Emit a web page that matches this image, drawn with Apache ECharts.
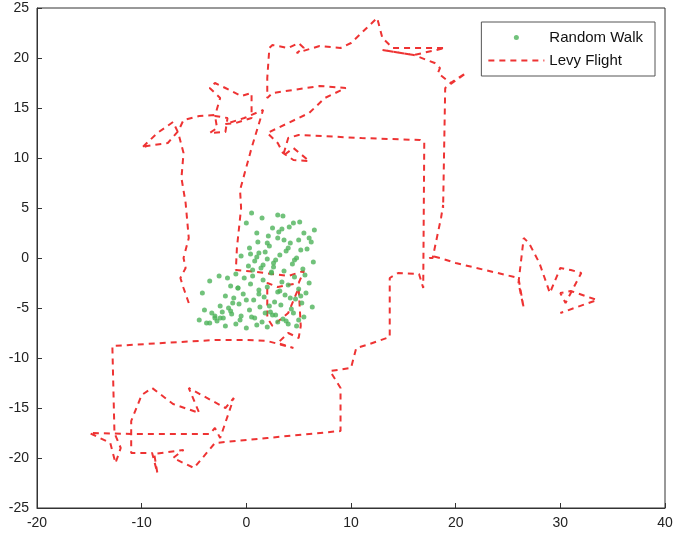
<!DOCTYPE html><html><head><meta charset="utf-8">
<script src="https://cdn.jsdelivr.net/npm/echarts@6/dist/echarts.min.js"></script>
<style>body{margin:0}#c{width:685px;height:539px}</style></head><body><div id="c"></div><script>
const xTicks=[-20,-10,0,10,20,30,40];
const yTicks=[-25,-20,-15,-10,-5,0,5,10,15,20,25];
const levyX=[-5.5,-6,-6.3,-5.8,-6,-5.5,-5.8,-6.2,-6,-6.5,-7,-8.5,-10,-9.5,-7.5,-6.5,-6,-4.5,-3,-2.8,-3.5,-2,-1.8,-3,-2.5,-3.5,-3,-2,-0.5,0.5,0.5,-1,-2,-0.2,1.6,0.5,-0.6,-0.5,-0.9,-1,1,4,5.5,5,3,2,2,2.5,4,5,5.2,5,4,3,4.5,2,0,-3,-8,-12.8,-12.6,-12,-12.5,-13,-15,-11,-7,-3.5,-3,-2.5,-1.2,-2,-5.5,-4.5,-7,-9,-10,-11,-11,-9,-8.5,-8.8,-6,-7,-5,-3,2,9,9,8,10,10.5,11.5,13.7,13.7,14.5,16.5,16.9,17,16.6,11,5,4,3.5,4.5,6,4.5,3.5,3,2,4,6,7.5,9.5,7,2.5,2,2,2.2,2.5,4,5,5.5,4.8,7,9,10,11.5,12.5,13,13.5,14,19,16,13,16,18,18.5,18.3,19.5,21,19,18.8,18.8,18.6,17.8,17.5,17.7,18.5,20,26,26.5,26,26.5,27,28,29,30,31,32,30.5,30,31,33.5,30,31.5];
const levyY=[-4.5,-3,-2,-1,0,2,5.5,8,10.5,12.5,13.6,12.5,11,11.2,11.5,12.7,13.8,14.2,14.3,13,12.5,12.6,14,14.2,16,17,17.5,17,16.2,16.5,14,13.5,13.4,14,14.8,11,6.8,5,1,-1.2,-1.4,-1.8,-1.3,-2.5,-2.9,-2.5,-6,-6.8,-5.5,-3,-6.8,-8,-7.5,-8.5,-9,-8.3,-8.2,-8.2,-8.5,-8.8,-17.5,-19,-20.5,-18.5,-17.5,-17.6,-17.6,-17.6,-17,-18,-14,-15,-13,-15.5,-14.6,-13,-13.7,-16.3,-19.5,-19.5,-21.5,-19.6,-19.2,-20,-21,-18.5,-18,-17.3,-13,-11.3,-11,-9,-8.7,-7.9,-2,-1.5,-1.6,-3,11.6,11.8,12,12.3,12,10.2,11,9.7,9.8,10.5,11.5,12.5,13.5,14.5,16,17,17.2,16.5,16,18,21,21.3,21,21.5,21,20.5,21.2,21,21.5,23,24,22,21.5,21,21,20.3,20.8,20.3,19.5,19,18.5,17.5,18.5,17,5,5.3,4,0,0,0.2,0,-0.5,-2,-5,-2.5,2,1.5,-0.5,-3.5,-1,-1.2,-1.5,-4.5,-3.5,-3.3,-4.2,-5.5];
const rwX=[0,0.5,1,1.5,2,2.5,3,3.5,4,4.5,5,5.5,6,6.5,0.3,1.2,2.2,3.2,4.2,5.2,6.2,-0.5,0.8,1.8,2.8,3.8,4.8,5.8,0.2,1.4,2.6,3.6,4.4,5.4,6.4,-1,-0.2,0.6,1.6,2.4,3.4,4.6,5.6,-1.5,-0.8,0.4,1.2,2,3,4,5,6,-2,-1.2,-0.3,0.7,1.7,2.7,3.7,4.7,5.7,-2.5,-1.7,-0.7,0.3,1.3,2.3,3.3,4.3,5.3,6.3,-3,-2.2,-1.4,-0.6,0.5,1.5,2.5,3.5,4.5,5.5,-3.5,-2.8,-2,-1,0,1,2,3,4,5,-4,-3.3,-2.5,-1.5,-0.5,0.8,1.8,2.8,3.8,4.8,-4.5,-3.8,-3,-2.3,-1.3,0,1.2,2.2,3.2,4.2,5.2,-4.2,-3.5,-2.6,-1.8,-0.8,0.6,1.6,2.6,3.6,4.6,0.4,1.1,2.1,3.1,4.1,5.1,2.4,3.4,1,2,3];
const rwY=[3.5,4.5,2.5,4,1.5,3,2,4.2,1,3.5,1.8,2.5,2,2.8,1,0.5,1.2,0.3,1.5,0.8,1.6,0.2,-0.3,0.6,-0.2,0.7,0,0.9,-0.8,-1,-0.5,-1.3,-0.6,-1.1,-0.4,-1.6,-2,-1.8,-2.2,-1.5,-2.4,-1.9,-1.7,-2.8,-3,-2.6,-3.2,-2.9,-3.4,-2.7,-3.1,-2.5,-3.8,-4,-3.6,-4.2,-3.9,-4.4,-3.7,-4.1,-3.5,-4.8,-5,-4.6,-5.2,-4.9,-5.4,-4.7,-5.1,-4.5,-4.9,-5.8,-6,-5.6,-6.2,-5.9,-6.4,-5.7,-6.1,-5.5,-5.9,-6.5,-6.3,-6.8,-6.6,-7,-6.7,-6.9,-6.4,-6.6,-6.2,-5.2,-5.5,-6,-5.3,-5.8,-6,-5.5,-5.7,-6.3,-6.8,-6.2,-6.5,-6,-5.4,-4.5,-4.2,-3.6,-4.8,-3.3,-4,-3.8,-3.5,-2.3,-1.8,-2,-3,-1.2,-0.7,-0.9,1.8,-0.2,0.4,1.6,2.2,2.6,3.1,3.6,-1.4,2.9,0.1,-0.1,4.3,-7.2,-6.9];
const levy=levyX.map((x,i)=>[x,levyY[i]]);
const rw=rwX.map((x,i)=>[x,rwY[i]]);
const ax={axisLine:{show:true,onZero:false,lineStyle:{color:'#333'}},axisTick:{inside:true,length:5,lineStyle:{color:'#333'}},splitLine:{show:false},axisLabel:{color:'#222',fontSize:14,fontFamily:'Liberation Sans'}};
const c=echarts.init(document.getElementById('c'));
c.setOption({animation:false,
grid:{left:37,right:20,top:8,bottom:31,show:true,borderColor:'#333',borderWidth:1},
xAxis:{type:'value',min:-20,max:40,interval:10,...ax},
yAxis:{type:'value',min:-25,max:25,interval:5,...ax},
legend:{orient:'vertical',right:30,top:22,itemGap:8,itemHeight:5,backgroundColor:'#fff',borderColor:'#555',borderWidth:1,padding:[8,12,8,6],itemWidth:56,textStyle:{fontSize:15,fontFamily:'Liberation Sans',color:'#111'},
 data:[{name:'Random Walk',icon:'circle'},{name:'Levy Flight',itemStyle:{opacity:0}}]},
series:[
{name:'Levy Flight',type:'line',data:levy,showSymbol:false,symbol:'none',lineStyle:{color:'#ee3333',width:2,type:[6,5]},itemStyle:{color:'#ee3333'}},
{name:'Random Walk',type:'scatter',data:rw,symbolSize:5,itemStyle:{color:'#4db35a'},z:3}
]});
</script></body></html>
